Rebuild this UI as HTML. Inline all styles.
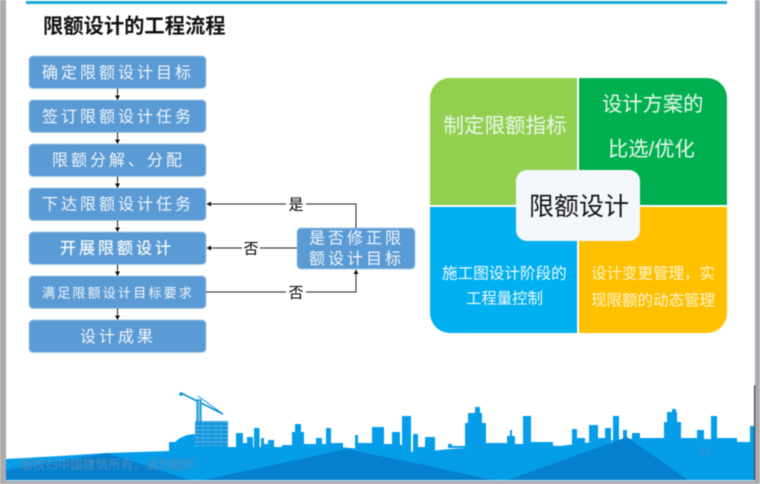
<!DOCTYPE html>
<html lang="zh">
<head>
<meta charset="utf-8">
<title>限额设计的工程流程</title>
<style>
html,body{margin:0;padding:0;width:760px;height:484px;overflow:hidden;background:#fff}
svg{display:block;filter:blur(0.45px)}
text{font-family:"Liberation Sans","Noto Sans CJK SC",sans-serif;dominant-baseline:central}
.n{fill:#f2f6fb;font-size:16px;letter-spacing:3px}
.l{fill:#000;font-size:15px;text-anchor:middle}
</style>
</head>
<body>
<svg width="760" height="484" viewBox="0 0 760 484" xmlns="http://www.w3.org/2000/svg">
<defs>
<marker id="a" markerWidth="6" markerHeight="6" refX="4" refY="2.5" orient="auto" markerUnits="userSpaceOnUse"><path d="M0 0L4.5 2.5L0 5z" fill="#111"/></marker>
</defs>
<rect width="760" height="484" fill="#fff"/>
<rect x="0" y="0" width="6" height="484" fill="#a9abae"/>
<rect x="755" y="0" width="5" height="484" fill="#a9abae"/>
<rect x="754" y="385" width="1.2" height="96" fill="#444"/>
<rect x="0" y="481" width="760" height="3" fill="#a9abae"/>
<rect x="26" y="1" width="701" height="3" fill="#1fabd6"/>
<text x="43" y="27" font-size="20.3" font-weight="700" fill="#111">限额设计的工程流程</text>
<g fill="#5b9bd5" stroke="#a9cbe8" stroke-width="1">
<rect x="29" y="56" width="177" height="32.5" rx="4"/>
<rect x="29" y="100" width="177" height="32.5" rx="4"/>
<rect x="29" y="144" width="177" height="32.5" rx="4"/>
<rect x="29" y="188" width="177" height="32.5" rx="4"/>
<rect x="29" y="232" width="177" height="32.5" rx="4"/>
<rect x="29" y="276" width="177" height="32.5" rx="4"/>
<rect x="29" y="320" width="177" height="32.5" rx="4"/>
<rect x="297" y="228" width="118" height="41" rx="4"/>
</g>
<text class="n" x="42" y="73.500">确定限额设计目标</text>
<text class="n" x="42" y="117.500">签订限额设计任务</text>
<text class="n" x="52" y="161">限额分解、分配</text>
<text class="n" x="42" y="205">下达限额设计任务</text>
<text class="n" x="60" y="249" style="fill:#f8fbfe;stroke:#f8fbfe;stroke-width:0.2px">开展限额设计</text>
<text class="n" x="42" y="293" style="font-size:13px;letter-spacing:2.2px">满足限额设计目标要求</text>
<text class="n" x="80" y="337.500">设计成果</text>
<text class="n" x="309" y="239">是否修正限</text>
<text class="n" x="309" y="259.500">额设计目标</text>
<g stroke="#222" stroke-width="1" fill="none" marker-end="url(#a)">
<line x1="117.5" y1="88.5" x2="117.5" y2="99.5"/>
<line x1="117.5" y1="132.5" x2="117.5" y2="143.5"/>
<line x1="117.5" y1="176.5" x2="117.5" y2="187.5"/>
<line x1="117.5" y1="220.5" x2="117.5" y2="231.5"/>
<line x1="117.5" y1="264.5" x2="117.5" y2="275.5"/>
<line x1="117.5" y1="308.5" x2="117.5" y2="319.5"/>
<polyline points="356,228 356,204 207,204"/>
<line x1="297" y1="248" x2="207" y2="248"/>
<polyline points="206,292 356,292 356,270"/>
</g>
<rect x="286" y="196" width="20" height="16" fill="#fff"/>
<text class="l" x="296" y="205">是</text>
<rect x="242" y="240" width="18" height="16" fill="#fff"/>
<text class="l" x="251" y="249">否</text>
<rect x="286" y="284" width="20" height="16" fill="#fff"/>
<text class="l" x="296" y="293">否</text>
<path d="M577 78H450a20 20 0 0 0-20 20V205H577z" fill="#92d050"/>
<path d="M579 78H707a20 20 0 0 1 20 20V205H579z" fill="#00b050"/>
<path d="M577 207H430V313a20 20 0 0 0 20 20H577z" fill="#00b0f0"/>
<path d="M579 207H727V313a20 20 0 0 1-20 20H579z" fill="#ffc000"/>
<text x="443.5" y="126" font-size="20.5" fill="#eef8ee">制定限额指标</text>
<text x="602" y="105" font-size="20.3" fill="#eef8ee">设计方案的</text>
<text x="608" y="150" font-size="20.3" fill="#eef8ee">比选/优化</text>
<text x="442" y="274" font-size="15.6" fill="#f0fbff">施工图设计阶段的</text>
<text x="466" y="299" font-size="15.4" fill="#f0fbff">工程量控制</text>
<text x="591" y="274" font-size="15.5" fill="#fff6d8">设计变更管理，实</text>
<text x="591" y="301" font-size="15.5" fill="#fff6d8">现限额的动态管理</text>
<rect x="516" y="170" width="124" height="71" rx="11" fill="#f4f7fc"/>
<text x="529" y="207" font-size="25" fill="#111">限额设计</text>
<path fill="#069de8" d="M6 459L60 456L107 453L170 451L230 447L340 447L372 450L420 452L450 449L500 446L520 444L560 446L600 441L640 438L680 438L754 443V480H6Z
M236 450V433H243V443H247V437H253V450Z
M254 450V428H259.500V450Z
M261 450V438H264V444H268V440H274V450Z
M282 450V445H292V432H295V424H301V432H304V444H316V438H322V444H326V428H331V443H343V450Z
M355 451V435H358V443H372V427H384V444H392V432H400V445H402V416H411V453H355Z
M413 453V434H418V447H425V437H435V453Z
M448 452V444H452V446H465V423H468V413H475V407H480V413H482V423H486V443H507V436H510V430H512V436H515V444H523V416H531V442H553V448H448Z
M572 446V429H577V438H585V446Z
M589 444V425H598V438H605V428H611V443H613V416H619V442H589Z
M623 440V430H627V440Z
M632 441V433H640V438H664V422H667V412H672V409H676V412H677V422H681V438H697V430H704V439H711V416H717V438H737V442H750V426H754V444H632Z
M169 452V442H175L180 438L187 435L195 434L197 452Z"/>
<circle cx="173" cy="450" r="3" fill="#069de8"/>
<circle cx="187" cy="450" r="3" fill="#069de8"/>
<rect x="195" y="421" width="33" height="32" fill="#3dabe6"/>
<rect x="195" y="446" width="33" height="7" fill="#069de8"/>
<g stroke="#0a8fd8" fill="none">
<path d="M195 424H228M195 428H228M195 432H228M195 436H228M195 440H228M195 444H228" stroke-width="1.5"/>
<path d="M200 421V446M206 421V446M212 421V446M218 421V446M224 421V446" stroke-width="0.6"/>
<path d="M181 393L223 414" stroke-width="1.6"/>
<path d="M198 396L223 414" stroke-width="0.8"/>
<rect x="197" y="400" width="4" height="22" stroke-width="1.2" fill="#6fbde8"/>
</g>
<circle cx="181" cy="394" r="1.8" fill="#0a8fd8"/>
<g fill="#0480cf">
<polygon points="6,470 107,453 190,480 6,480"/>
<polygon points="203,480 347,449 380,456 425,465 492,480"/>
<polygon points="508,480 627,437 688,480"/>
</g>
<rect x="6" y="480" width="749" height="1" fill="#bfe3f3"/>
<text x="20" y="465" font-size="12.6" fill="#4f8db8">版权归中国建筑所有，请勿翻印</text>
<text x="699" y="451.5" font-size="10" fill="#4a93c6">21</text>
</svg>
</body>
</html>
